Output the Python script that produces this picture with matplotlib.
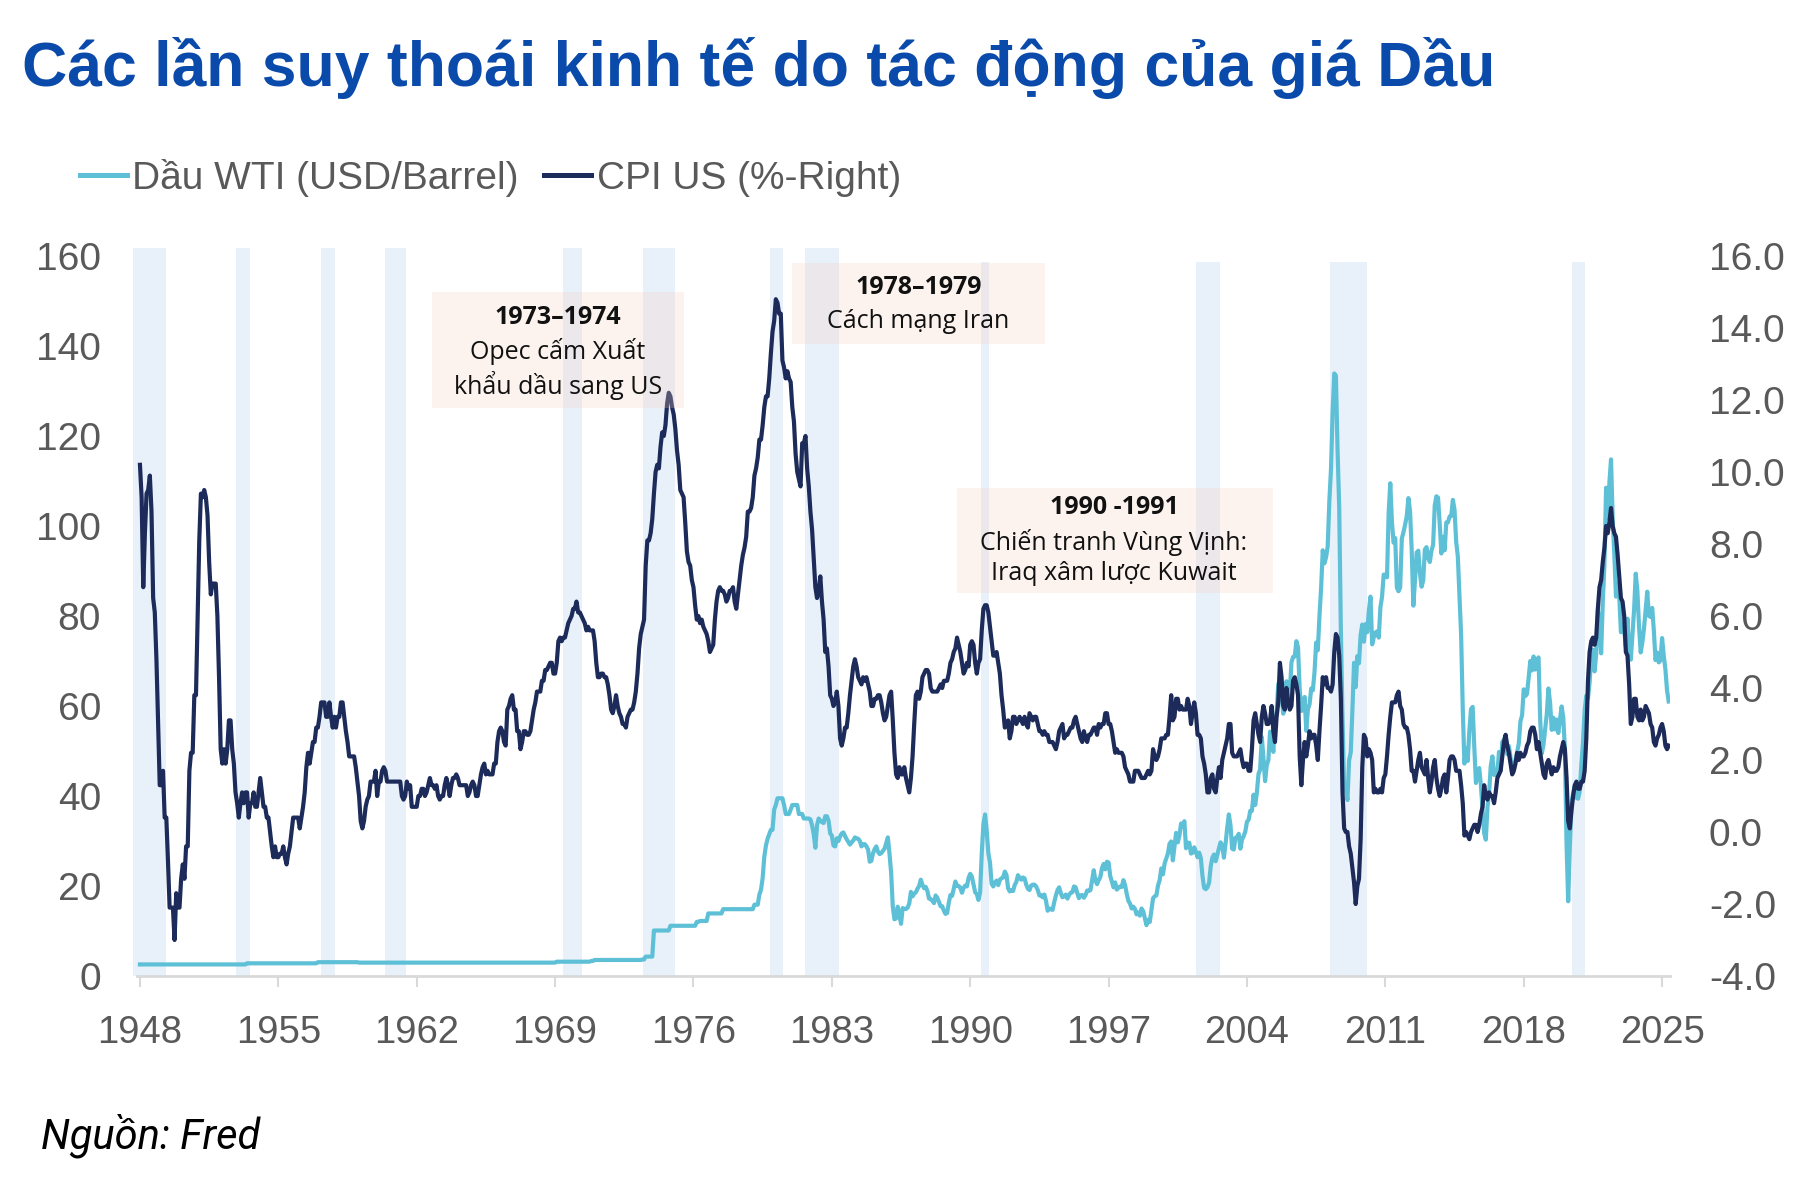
import matplotlib
matplotlib.use('Agg')  # no UI backend

import matplotlib.pyplot as plt
import numpy as np
from matplotlib.patches import Rectangle
from matplotlib.lines import Line2D
from matplotlib.ticker import FormatStrFormatter

# du lieu thang, bat dau tu thang 1/1948
start_year = 1948

# CPI US, % so voi cung ky (truc phai)
cpi_yoy = [
    10.2, 9.3, 6.8, 8.3, 9.4, 9.5, 9.9, 8.9, 6.5, 6.1, 4.8, 3.0,            # 1948
    1.3, 1.3, 1.7, 0.4, 0.4, -0.8, -2.1, -2.1, -2.1, -3.0, -1.7, -2.1,      # 1949
    -2.1, -1.3, -0.9, -1.3, -0.4, -0.4, 1.7, 2.2, 2.2, 3.8, 3.8, 5.9,       # 1950
    8.1, 9.4, 9.3, 9.5, 9.3, 8.8, 7.5, 6.6, 6.9, 6.9, 6.9, 6.0,             # 1951
    4.3, 2.3, 1.9, 2.3, 1.9, 2.3, 3.1, 3.1, 2.3, 1.9, 1.1, 0.8,             # 1952
    0.4, 0.8, 1.1, 0.8, 1.1, 1.1, 0.4, 0.8, 0.8, 1.1, 0.7, 0.7,             # 1953
    1.1, 1.5, 1.1, 0.7, 0.7, 0.4, 0.4, 0.0, -0.4, -0.7, -0.4, -0.7,         # 1954
    -0.7, -0.6, -0.6, -0.4, -0.7, -0.9, -0.6, -0.4, 0.0, 0.4, 0.4, 0.4,     # 1955
    0.4, 0.1, 0.4, 0.7, 1.1, 1.8, 2.2, 1.9, 2.2, 2.5, 2.5, 2.9,             # 1956
    2.9, 3.2, 3.6, 3.6, 3.6, 3.2, 3.2, 3.6, 3.2, 2.9, 3.2, 2.9,             # 1957
    3.2, 3.2, 3.6, 3.6, 3.2, 2.8, 2.5, 2.1, 2.1, 2.1, 2.1, 1.8,             # 1958
    1.4, 1.0, 0.3, 0.1, 0.3, 0.7, 0.9, 1.0, 1.4, 1.4, 1.4, 1.7,             # 1959
    1.0, 1.4, 1.4, 1.7, 1.8, 1.7, 1.4, 1.4, 1.4, 1.4, 1.4, 1.4,             # 1960
    1.4, 1.4, 1.4, 1.0, 0.9, 1.0, 1.4, 1.2, 1.3, 0.7, 0.7, 0.7,             # 1961
    0.7, 1.0, 1.0, 1.2, 1.2, 1.0, 1.1, 1.3, 1.5, 1.3, 1.3, 1.2,             # 1962
    1.3, 1.0, 0.9, 1.0, 1.0, 1.3, 1.5, 1.3, 1.0, 1.3, 1.5, 1.5,             # 1963
    1.6, 1.5, 1.3, 1.3, 1.3, 1.3, 1.3, 1.0, 1.1, 1.3, 1.4, 1.3,             # 1964
    1.0, 1.0, 1.3, 1.6, 1.8, 1.9, 1.6, 1.7, 1.6, 1.6, 1.6, 1.9,             # 1965
    1.9, 2.5, 2.8, 2.9, 2.8, 2.5, 2.4, 3.4, 3.5, 3.7, 3.8, 3.4,             # 1966
    3.4, 2.8, 2.8, 2.3, 2.5, 2.8, 2.8, 2.7, 2.7, 2.8, 3.1, 3.4,             # 1967
    3.6, 3.9, 3.9, 3.9, 4.2, 4.2, 4.5, 4.5, 4.6, 4.7, 4.7, 4.4,             # 1968
    4.4, 4.7, 5.3, 5.4, 5.3, 5.4, 5.4, 5.6, 5.8, 5.9, 6.0, 6.2,             # 1969
    6.2, 6.4, 6.1, 6.1, 6.0, 5.9, 5.8, 5.6, 5.7, 5.6, 5.6, 5.6,             # 1970
    5.3, 4.7, 4.3, 4.3, 4.4, 4.4, 4.3, 4.3, 4.1, 3.8, 3.4, 3.3,             # 1971
    3.5, 3.8, 3.5, 3.3, 3.2, 3.0, 3.0, 2.9, 3.2, 3.3, 3.4, 3.4,             # 1972
    3.6, 3.9, 4.4, 5.1, 5.5, 5.7, 5.9, 7.4, 8.1, 8.1, 8.3, 8.7,             # 1973
    9.4, 10.0, 10.2, 10.1, 10.7, 11.1, 11.0, 11.3, 11.9, 12.2, 12.1, 11.8,  # 1974
    11.6, 11.2, 10.6, 10.2, 9.5, 9.4, 9.3, 8.6, 7.8, 7.5, 7.4, 7.0,         # 1975
    6.8, 6.3, 5.9, 6.0, 5.8, 5.9, 5.7, 5.6, 5.5, 5.3, 5.0, 5.1,             # 1976
    5.2, 5.9, 6.4, 6.7, 6.8, 6.7, 6.7, 6.6, 6.4, 6.5, 6.7, 6.7,             # 1977
    6.8, 6.4, 6.2, 6.6, 7.0, 7.4, 7.7, 7.9, 8.2, 8.9, 8.9, 9.0,             # 1978
    9.3, 9.9, 10.1, 10.4, 10.9, 10.9, 11.3, 11.8, 12.1, 12.1, 12.6, 13.3,   # 1979
    13.9, 14.2, 14.8, 14.7, 14.4, 14.4, 13.1, 12.9, 12.6, 12.8, 12.6, 12.5, # 1980
    11.8, 11.4, 10.5, 10.0, 9.8, 9.6, 10.8, 10.8, 11.0, 10.1, 9.6, 8.9,     # 1981
    8.4, 7.6, 6.8, 6.5, 6.7, 7.1, 6.4, 5.9, 5.0, 5.1, 4.6, 3.8,             # 1982
    3.7, 3.5, 3.6, 3.9, 3.5, 2.6, 2.4, 2.6, 2.9, 2.9, 3.3, 3.8,             # 1983
    4.2, 4.6, 4.8, 4.6, 4.3, 4.2, 4.1, 4.3, 4.2, 4.3, 4.1, 3.9,             # 1984
    3.5, 3.5, 3.7, 3.7, 3.8, 3.8, 3.6, 3.3, 3.1, 3.2, 3.5, 3.8,             # 1985
    3.9, 3.1, 2.2, 1.6, 1.5, 1.8, 1.6, 1.6, 1.8, 1.5, 1.3, 1.1,             # 1986
    1.5, 2.1, 3.0, 3.8, 3.9, 3.7, 3.9, 4.3, 4.4, 4.5, 4.5, 4.4,             # 1987
    4.0, 3.9, 3.9, 3.9, 3.9, 4.0, 4.1, 4.0, 4.2, 4.2, 4.2, 4.4,             # 1988
    4.7, 4.8, 5.0, 5.1, 5.4, 5.2, 5.0, 4.7, 4.4, 4.5, 4.7, 4.6,             # 1989
    5.2, 5.3, 5.2, 4.7, 4.4, 4.7, 4.8, 5.6, 6.2, 6.3, 6.3, 6.1,             # 1990
    5.7, 5.3, 4.9, 4.9, 5.0, 4.7, 4.4, 3.8, 3.4, 2.9, 3.0, 3.1,             # 1991
    2.6, 2.8, 3.2, 3.2, 3.0, 3.1, 3.2, 3.1, 3.0, 3.2, 3.0, 2.9,             # 1992
    3.3, 3.2, 3.1, 3.2, 3.2, 3.0, 2.8, 2.8, 2.7, 2.8, 2.7, 2.7,             # 1993
    2.5, 2.5, 2.5, 2.4, 2.3, 2.5, 2.8, 2.9, 3.0, 2.6, 2.7, 2.7,             # 1994
    2.8, 2.9, 2.9, 3.1, 3.2, 3.0, 2.8, 2.6, 2.5, 2.8, 2.6, 2.5,             # 1995
    2.7, 2.7, 2.8, 2.9, 2.9, 2.7, 3.0, 2.9, 3.0, 3.0, 3.3, 3.3,             # 1996
    3.0, 3.0, 2.8, 2.5, 2.2, 2.3, 2.2, 2.2, 2.2, 2.1, 1.8, 1.7,             # 1997
    1.6, 1.4, 1.4, 1.4, 1.7, 1.7, 1.7, 1.6, 1.5, 1.5, 1.5, 1.6,             # 1998
    1.7, 1.6, 1.7, 2.3, 2.1, 2.0, 2.1, 2.3, 2.6, 2.6, 2.6, 2.7,             # 1999
    2.7, 3.2, 3.8, 3.1, 3.2, 3.7, 3.7, 3.4, 3.5, 3.4, 3.4, 3.4,             # 2000
    3.7, 3.5, 3.0, 3.3, 3.6, 3.3, 2.7, 2.7, 2.6, 2.1, 1.9, 1.6,             # 2001
    1.1, 1.1, 1.5, 1.6, 1.2, 1.1, 1.5, 1.8, 1.5, 2.0, 2.2, 2.4,             # 2002
    2.6, 3.0, 3.0, 2.2, 2.1, 2.1, 2.1, 2.2, 2.3, 2.0, 1.8, 1.9,             # 2003
    1.9, 1.7, 1.7, 2.3, 3.1, 3.3, 3.0, 2.7, 2.5, 3.2, 3.5, 3.3,             # 2004
    3.0, 3.0, 3.1, 3.5, 2.8, 2.5, 3.2, 3.6, 4.7, 4.3, 3.5, 3.4,             # 2005
    4.0, 3.6, 3.4, 3.5, 4.2, 4.3, 4.1, 3.8, 2.1, 1.3, 2.0, 2.5,             # 2006
    2.1, 2.4, 2.8, 2.6, 2.7, 2.7, 2.4, 2.0, 2.8, 3.5, 4.3, 4.1,             # 2007
    4.3, 4.0, 4.0, 3.9, 4.1, 5.0, 5.5, 5.4, 4.9, 3.7, 1.1, 0.1,             # 2008
    0.0, 0.0, -0.4, -0.6, -1.0, -1.4, -2.0, -1.5, -1.3, -0.2, 1.8, 2.7,     # 2009
    2.6, 2.1, 2.3, 2.2, 2.0, 1.1, 1.2, 1.1, 1.1, 1.2, 1.1, 1.5,             # 2010
    1.6, 2.1, 2.7, 3.2, 3.6, 3.6, 3.6, 3.8, 3.9, 3.5, 3.4, 3.0,             # 2011
    2.9, 2.9, 2.7, 2.3, 1.7, 1.7, 1.4, 1.7, 2.0, 2.2, 1.8, 1.7,             # 2012
    1.6, 2.0, 1.5, 1.1, 1.4, 1.8, 2.0, 1.5, 1.2, 1.0, 1.2, 1.5,             # 2013
    1.6, 1.1, 1.5, 2.0, 2.1, 2.1, 2.0, 1.7, 1.7, 1.7, 1.3, 0.8,             # 2014
    -0.1, 0.0, -0.1, -0.2, 0.0, 0.1, 0.2, 0.2, 0.0, 0.2, 0.5, 0.7,          # 2015
    1.3, 1.0, 0.9, 1.1, 1.0, 1.0, 0.8, 1.1, 1.5, 1.6, 1.7, 2.1,             # 2016
    2.5, 2.7, 2.4, 2.2, 1.9, 1.6, 1.7, 1.9, 2.2, 2.0, 2.2, 2.1,             # 2017
    2.1, 2.2, 2.4, 2.5, 2.8, 2.9, 2.9, 2.7, 2.3, 2.5, 2.2, 1.9,             # 2018
    1.6, 1.5, 1.9, 2.0, 1.8, 1.6, 1.8, 1.7, 1.7, 1.8, 2.1, 2.3,             # 2019
    2.5, 2.3, 1.5, 0.3, 0.1, 0.6, 1.0, 1.3, 1.4, 1.2, 1.2, 1.4,             # 2020
    1.4, 1.7, 2.6, 4.2, 5.0, 5.3, 5.4, 5.2, 5.4, 6.2, 6.8, 7.0,             # 2021
    7.5, 7.9, 8.5, 8.3, 8.6, 9.0, 8.5, 8.3, 8.2, 7.7, 7.1, 6.5,             # 2022
    6.4, 6.0, 5.0, 4.9, 4.1, 3.0, 3.2, 3.7, 3.7, 3.2, 3.1, 3.4,             # 2023
    3.1, 3.2, 3.5, 3.4, 3.3, 3.0, 2.9, 2.5, 2.4, 2.6, 2.7, 2.9,             # 2024
    3.0, 2.8, 2.4, 2.3, 2.4,                                                # 2025
]

# gia dau WTI, USD/thung (truc trai)
wti_price = [
    2.57, 2.57, 2.57, 2.57, 2.57, 2.57, 2.57, 2.57, 2.57, 2.57, 2.57, 2.57,  # 1948
    2.57, 2.57, 2.57, 2.57, 2.57, 2.57, 2.57, 2.57, 2.57, 2.57, 2.57, 2.57,  # 1949
    2.57, 2.57, 2.57, 2.57, 2.57, 2.57, 2.57, 2.57, 2.57, 2.57, 2.57, 2.57,  # 1950
    2.57, 2.57, 2.57, 2.57, 2.57, 2.57, 2.57, 2.57, 2.57, 2.57, 2.57, 2.57,  # 1951
    2.57, 2.57, 2.57, 2.57, 2.57, 2.57, 2.57, 2.57, 2.57, 2.57, 2.57, 2.57,  # 1952
    2.57, 2.57, 2.57, 2.57, 2.57, 2.82, 2.82, 2.82, 2.82, 2.82, 2.82, 2.82,  # 1953
    2.82, 2.82, 2.82, 2.82, 2.82, 2.82, 2.82, 2.82, 2.82, 2.82, 2.82, 2.82,  # 1954
    2.82, 2.82, 2.82, 2.82, 2.82, 2.82, 2.82, 2.82, 2.82, 2.82, 2.82, 2.82,  # 1955
    2.82, 2.82, 2.82, 2.82, 2.82, 2.82, 2.82, 2.82, 2.82, 2.82, 2.82, 2.82,  # 1956
    3.07, 3.07, 3.07, 3.07, 3.07, 3.07, 3.07, 3.07, 3.07, 3.07, 3.07, 3.07,  # 1957
    3.07, 3.07, 3.07, 3.07, 3.07, 3.07, 3.07, 3.07, 3.07, 3.07, 3.07, 3.07,  # 1958
    3.07, 2.97, 2.97, 2.97, 2.97, 2.97, 2.97, 2.97, 2.97, 2.97, 2.97, 2.97,  # 1959
    2.97, 2.97, 2.97, 2.97, 2.97, 2.97, 2.97, 2.97, 2.97, 2.97, 2.97, 2.97,  # 1960
    2.97, 2.97, 2.97, 2.97, 2.97, 2.97, 2.97, 2.97, 2.97, 2.97, 2.97, 2.97,  # 1961
    2.97, 2.97, 2.97, 2.97, 2.97, 2.97, 2.97, 2.97, 2.97, 2.97, 2.97, 2.97,  # 1962
    2.97, 2.97, 2.97, 2.97, 2.97, 2.97, 2.97, 2.97, 2.97, 2.97, 2.97, 2.97,  # 1963
    2.97, 2.97, 2.97, 2.97, 2.97, 2.97, 2.97, 2.97, 2.97, 2.97, 2.97, 2.97,  # 1964
    2.97, 2.97, 2.97, 2.97, 2.97, 2.97, 2.97, 2.97, 2.97, 2.97, 2.97, 2.97,  # 1965
    2.97, 2.97, 2.97, 2.97, 2.97, 2.97, 2.97, 2.97, 2.97, 2.97, 2.97, 2.97,  # 1966
    2.97, 2.97, 2.97, 2.97, 2.97, 2.97, 2.97, 2.97, 2.97, 2.97, 2.97, 2.97,  # 1967
    2.97, 2.97, 2.97, 2.97, 2.97, 2.97, 2.97, 2.97, 2.97, 2.97, 2.97, 2.97,  # 1968
    2.97, 3.18, 3.18, 3.18, 3.18, 3.18, 3.18, 3.18, 3.18, 3.18, 3.18, 3.18,  # 1969
    3.18, 3.18, 3.18, 3.18, 3.18, 3.18, 3.18, 3.18, 3.18, 3.18, 3.35, 3.35,  # 1970
    3.56, 3.56, 3.56, 3.56, 3.56, 3.56, 3.56, 3.56, 3.56, 3.56, 3.56, 3.56,  # 1971
    3.56, 3.56, 3.56, 3.56, 3.56, 3.56, 3.56, 3.56, 3.56, 3.56, 3.56, 3.56,  # 1972
    3.56, 3.56, 3.56, 3.56, 3.56, 3.66, 3.66, 4.31, 4.31, 4.31, 4.31, 4.31,  # 1973
    10.11, 10.11, 10.11, 10.11, 10.11, 10.11, 10.11, 10.11, 10.11, 10.11, 11.16, 11.16,  # 1974
    11.16, 11.16, 11.16, 11.16, 11.16, 11.16, 11.16, 11.16, 11.16, 11.16, 11.16, 11.16,  # 1975
    11.16, 11.16, 12.03, 12.03, 12.23, 12.23, 12.23, 12.23, 12.23, 13.9, 13.9, 13.9,     # 1976
    13.9, 13.9, 13.9, 13.9, 13.9, 13.9, 14.85, 14.85, 14.85, 14.85, 14.85, 14.85,        # 1977
    14.85, 14.85, 14.85, 14.85, 14.85, 14.85, 14.85, 14.85, 14.85, 14.85, 14.85, 14.85,  # 1978
    14.85, 15.85, 15.85, 15.85, 18.08, 19.17, 21.8, 26.5, 29.0, 30.5, 31.5, 32.5,        # 1979
    32.5, 37.0, 38.0, 39.5, 39.5, 39.5, 39.5, 38.0, 36.0, 36.0, 36.0, 37.0,     # 1980
    38.0, 38.0, 38.0, 38.0, 36.0, 36.0, 36.0, 35.0, 35.0, 35.0, 35.0, 34.8,     # 1981
    33.5, 31.5, 28.5, 33.5, 35.0, 34.5, 34.2, 34.0, 35.5, 35.5, 34.5, 31.7,     # 1982
    31.2, 29.0, 28.8, 30.6, 30.0, 31.0, 31.7, 31.9, 31.1, 30.4, 29.8, 29.2,     # 1983
    29.7, 30.1, 30.8, 30.6, 30.5, 30.0, 28.8, 29.3, 29.3, 28.8, 28.1, 25.4,     # 1984
    25.6, 27.3, 28.2, 28.8, 27.6, 27.1, 27.3, 27.8, 28.3, 29.5, 30.8, 27.2,     # 1985
    22.9, 15.4, 12.6, 12.8, 15.4, 13.5, 11.6, 15.1, 14.9, 14.9, 15.2, 16.1,     # 1986
    18.7, 17.7, 18.3, 18.6, 19.4, 20.0, 21.4, 20.3, 19.5, 19.8, 18.9, 17.2,     # 1987
    17.1, 16.7, 16.2, 17.9, 17.4, 16.5, 15.5, 15.5, 14.5, 13.8, 14.0, 16.3,     # 1988
    18.0, 17.8, 19.4, 21.0, 20.0, 20.0, 19.6, 18.5, 19.6, 20.1, 19.9, 21.8,     # 1989
    22.7, 22.1, 20.4, 18.6, 18.2, 16.9, 18.6, 27.2, 33.7, 35.9, 32.3, 27.3,     # 1990
    25.2, 20.5, 19.9, 20.8, 21.2, 20.2, 21.4, 21.7, 21.9, 23.2, 22.5, 19.5,     # 1991
    18.8, 19.0, 18.9, 20.2, 20.9, 22.4, 21.8, 21.4, 21.9, 21.7, 20.3, 19.4,     # 1992
    19.1, 20.1, 20.3, 20.3, 19.9, 19.1, 17.9, 18.0, 17.5, 18.1, 16.7, 14.5,     # 1993
    15.0, 14.8, 14.7, 16.4, 17.9, 19.1, 19.7, 18.4, 17.5, 17.7, 18.1, 17.2,     # 1994
    18.0, 18.5, 18.6, 19.9, 19.7, 18.4, 17.3, 17.9, 18.0, 17.4, 18.0, 19.0,     # 1995
    18.9, 19.1, 21.3, 23.5, 21.2, 20.4, 21.3, 22.0, 24.0, 24.9, 23.7, 25.4,     # 1996
    25.2, 22.2, 21.0, 19.7, 20.8, 19.2, 19.6, 19.9, 19.8, 21.3, 20.2, 18.3,     # 1997
    16.7, 16.1, 15.0, 15.4, 14.9, 13.7, 14.1, 13.4, 15.0, 14.4, 12.9, 11.3,     # 1998
    12.5, 12.0, 14.7, 17.3, 17.7, 17.9, 20.1, 21.3, 23.9, 22.6, 25.0, 26.1,     # 1999
    27.2, 29.4, 29.9, 25.7, 28.8, 31.8, 29.7, 31.2, 33.9, 33.1, 34.4, 28.4,     # 2000
    29.6, 29.6, 27.2, 27.4, 28.6, 27.6, 26.4, 27.4, 26.2, 22.2, 19.6, 19.3,     # 2001
    19.7, 20.7, 24.4, 26.3, 27.0, 25.5, 26.9, 28.4, 29.7, 28.9, 26.3, 29.4,     # 2002
    32.9, 35.9, 33.5, 28.3, 28.1, 30.7, 30.8, 31.6, 28.3, 30.3, 31.1, 32.1,     # 2003
    34.3, 34.7, 36.7, 36.7, 40.3, 38.0, 40.7, 44.9, 45.9, 53.1, 48.5, 43.3,     # 2004
    46.8, 48.0, 54.3, 53.0, 49.8, 56.3, 58.7, 64.9, 65.6, 62.3, 58.3, 59.4,     # 2005
    65.5, 61.6, 62.9, 69.7, 70.9, 71.0, 74.4, 73.0, 63.8, 58.9, 59.1, 62.0,     # 2006
    54.5, 59.3, 60.4, 63.9, 63.5, 67.5, 74.1, 72.4, 79.9, 86.2, 94.6, 91.7,     # 2007
    93.0, 95.4, 105.5, 112.6, 125.4, 133.9, 133.4, 116.7, 104.1, 76.6, 57.3, 41.1,  # 2008
    41.7, 39.1, 47.9, 49.7, 59.0, 69.6, 64.2, 71.1, 69.5, 75.8, 78.1, 74.3,     # 2009
    78.2, 76.4, 81.2, 84.3, 73.7, 75.3, 76.3, 76.6, 75.2, 81.9, 84.3, 89.2,     # 2010
    89.2, 88.6, 102.9, 109.5, 100.9, 96.3, 97.3, 86.3, 85.5, 86.3, 97.2, 98.6,  # 2011
    100.3, 102.2, 106.2, 103.3, 94.7, 82.3, 87.9, 94.1, 94.5, 89.5, 86.5, 87.9, # 2012
    94.8, 95.3, 92.9, 92.0, 94.5, 95.8, 104.6, 106.6, 106.3, 100.5, 93.9, 97.6, # 2013
    94.6, 100.8, 100.8, 102.1, 102.2, 105.8, 103.6, 96.5, 93.2, 84.4, 75.8, 59.3,  # 2014
    47.2, 50.6, 47.8, 54.5, 59.3, 59.8, 50.9, 42.9, 45.5, 46.2, 42.4, 37.2,     # 2015
    31.7, 30.3, 37.5, 40.8, 46.7, 48.8, 44.7, 44.7, 45.2, 49.8, 45.7, 52.0,     # 2016
    52.5, 53.5, 49.3, 51.1, 48.5, 45.2, 46.6, 48.0, 49.8, 51.6, 56.6, 57.9,     # 2017
    63.7, 62.2, 62.7, 66.3, 70.0, 67.9, 71.0, 68.1, 70.2, 70.8, 57.0, 49.5,     # 2018
    51.4, 54.9, 58.2, 63.9, 60.8, 54.7, 57.4, 54.8, 57.0, 54.0, 57.0, 59.9,     # 2019
    57.5, 50.5, 29.2, 16.6, 28.6, 38.3, 40.7, 42.3, 39.6, 39.4, 41.0, 47.0,     # 2020
    52.0, 59.0, 62.3, 61.7, 65.2, 71.4, 72.5, 67.7, 71.5, 81.2, 79.0, 71.7,     # 2021
    83.2, 91.6, 108.5, 101.8, 109.6, 114.8, 101.6, 93.7, 84.3, 87.3, 84.4, 76.4,  # 2022
    78.1, 76.8, 73.3, 79.4, 71.6, 70.3, 76.0, 81.4, 89.4, 85.6, 77.7, 71.9,     # 2023
    74.1, 77.2, 81.3, 85.4, 80.0, 79.8, 81.8, 76.7, 70.2, 71.9, 69.7, 70.1,     # 2024
    75.1, 71.2, 68.2, 63.5, 61.0,                                               # 2025
]

# cac giai doan suy thoai (nam bat dau, nam ket thuc)
recessions = [
    (1947.66, 1949.32), (1952.87, 1953.58), (1957.14, 1957.85), (1960.39, 1961.45),
    (1969.39, 1970.37), (1973.47, 1975.07), (1979.87, 1980.54), (1981.63, 1983.34),
    (1990.55, 1990.97), (2001.42, 2002.62), (2008.21, 2010.07), (2020.44, 2021.08),
]

x_ticks = [1948, 1955, 1962, 1969, 1976, 1983, 1990, 1997, 2004, 2011, 2018, 2025]
left_ticks = [0, 20, 40, 60, 80, 100, 120, 140, 160]
right_ticks = [-4, -2, 0, 2, 4, 6, 8, 10, 12, 14, 16]

notes = [
    ("1973–1974", ["Opec cấm Xuất", "khẩu dầu sang US"]),
    ("1978–1979", ["Cách mạng Iran"]),
    ("1990 -1991", ["Chiến tranh Vùng Vịnh:", "Iraq xâm lược Kuwait"]),
]

title = "Các lần suy thoái kinh tế do tác động của giá Dầu"
labels = ["Dầu WTI (USD/Barrel)", "CPI US (%-Right)"]
source = "Nguồn: Fred"

# ---- style
plt.rcParams['font.family'] = ['Liberation Sans', 'DejaVu Sans']
plt.rcParams['axes.unicode_minus'] = False
oil_c = '#5EC0D6'
cpi_c = '#1C2B5A'
band_c = '#E8F0FA'
grey = '#595959'
note_font = ['Open Sans', 'Noto Sans', 'DejaVu Sans']
W, H = 1800, 1200


def fx(px):
    return px / W


def fy(py):
    return 1 - py / H


fig = plt.figure(figsize=(18, 12), dpi=100)
ax = fig.add_axes([fx(137), fy(976), fx(1670) - fx(137), fy(256) - fy(976)])
ax2 = ax.twinx()

months = start_year + np.arange(len(cpi_yoy)) / 12

for a, b in recessions:
    top = 1.011 if a < 1985 else 0.991
    ax.axvspan(a, b, ymin=0, ymax=top, color=band_c, lw=0, zorder=0, clip_on=False)

ax.plot(months, wti_price, color=oil_c, lw=3.0, zorder=2, solid_joinstyle='round')
ax2.plot(months, cpi_yoy, color=cpi_c, lw=3.0, zorder=2, solid_joinstyle='round')

ax.set_xlim(1947.85, 2025.4)
ax.set_ylim(0, 160)
ax2.set_ylim(-4, 16)

for a_ in (ax, ax2):
    for s in ('top', 'left', 'right'):
        a_.spines[s].set_visible(False)
ax2.spines['bottom'].set_visible(False)
ax.spines['bottom'].set_color('#D9D9D9')
ax.spines['bottom'].set_linewidth(2)

ax.set_xticks(x_ticks)
ax.set_yticks(left_ticks)
ax2.set_yticks(right_ticks)
ax2.yaxis.set_major_formatter(FormatStrFormatter('%.1f'))
ax.tick_params(axis='x', length=8, width=1.5, color='#D9D9D9', labelsize=27.5,
               labelcolor=grey, pad=20)
ax.tick_params(axis='y', length=0, labelsize=28, labelcolor=grey, pad=26)
ax2.tick_params(axis='y', length=0, labelsize=28, labelcolor=grey, pad=28)

# ---- annotation boxes
boxes = [(431.6, 291.6, 684.2, 407.8), (792, 262.8, 1044.5, 344), (957.4, 487.5, 1273, 593)]
text_pos = [(558, [318, 351.5, 385]), (918.6, [287, 321]), (1114, [508, 542, 573])]
for (x0, y0, x1, y1), (head, lines), (cx, ys) in zip(boxes, notes, text_pos):
    fig.add_artist(Rectangle((fx(x0), fy(y1)), fx(x1) - fx(x0), fy(y0) - fy(y1),
                             transform=fig.transFigure, facecolor='#F7D1BE',
                             alpha=0.26, lw=0, zorder=5))
    fig.text(fx(cx), fy(ys[0]), head, ha='center', va='center', fontsize=18,
             fontweight='bold', family=note_font, color='#111111', zorder=6)
    for t, yy in zip(lines, ys[1:]):
        fig.text(fx(cx), fy(yy), t, ha='center', va='center', fontsize=18,
                 family=note_font, color='#111111', zorder=6)

# ---- title, legend, source
fig.text(0.012, fy(86), title, fontsize=45, fontweight='bold', color='#0A4AAA',
         va='baseline', ha='left')

handles = [Line2D([], [], color=oil_c, lw=3.6), Line2D([], [], color=cpi_c, lw=3.6)]
fig.legend(handles, labels, loc='center left', bbox_to_anchor=(fx(80), fy(178)),
           ncol=2, frameon=False, fontsize=28, handlelength=1.2, handletextpad=0.15,
           columnspacing=0.65, borderpad=0, borderaxespad=0, labelcolor=grey)

fig.text(fx(41), fy(1136), source, fontsize=30, style='italic',
         family=['Roboto', 'DejaVu Sans'], va='center', ha='left', color='#000000')

fig.savefig('out.png', dpi=100)
